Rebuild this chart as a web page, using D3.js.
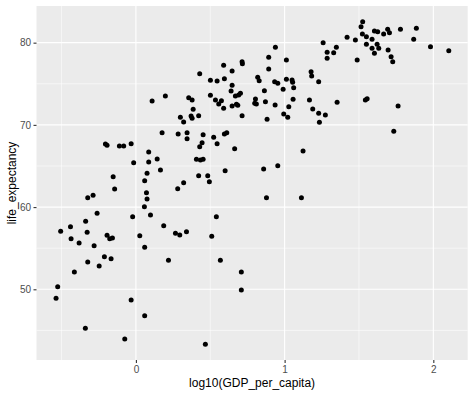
<!DOCTYPE html>
<html><head><meta charset="utf-8">
<script src="https://cdn.jsdelivr.net/npm/d3@7"></script>
<style>body{margin:0;background:#fff}svg{display:block}text{font-family:"Liberation Sans",Arial,Helvetica,sans-serif}</style>
</head><body><div id="chart"></div>
<script>
const xLabel = "log10(GDP_per_capita)";
const yLabel = "life_expectancy";
const xTicks = [0, 1, 2];
const yTicks = [50, 60, 70, 80];
const xMinor = [-0.5, 0.5, 1.5];
const yMinor = [45, 55, 65, 75];
const gdpLog = [
0.109,0.198,0.355,0.378,0.385,0.299,0.321,0.371,0.378,0.422,0.429,0.501,0.546,0.595,0.590,0.647,0.714,0.716,0.501,0.535,
0.557,0.575,0.590,0.647,0.640,0.669,0.691,0.703,0.647,0.676,0.685,0.714,0.804,0.799,0.810,0.819,0.829,0.864,0.871,0.893,
0.893,0.938,0.933,0.954,0.990,0.936,0.882,1.012,1.012,1.050,1.054,1.061,1.057,1.028,0.994,1.021,1.167,
1.525,1.514,1.523,1.420,1.476,1.550,1.588,1.604,1.626,1.666,1.693,1.705,1.779,1.886,1.868,1.981,2.104,1.550,1.588,1.622,
1.633,1.604,1.696,1.716,1.727,1.488,1.259,1.348,1.330,1.286,1.286,1.178,1.182,1.229,1.189,1.229,1.274,1.234,1.353,1.543,
1.555,1.763,1.734,
-0.205,-0.194,-0.111,-0.082,-0.032,-0.015,0.086,0.086,0.143,0.165,0.075,-0.153,-0.143,0.059,0.071,0.075,0.057,0.098,-0.022,-0.324,
-0.288,-0.261,-0.338,-0.328,-0.440,-0.506,-0.436,-0.382,-0.281,-0.194,-0.176,-0.158,0.026,0.059,
-0.212,-0.167,-0.324,-0.247,-0.414,-0.526,-0.537,-0.032,0.059,-0.340,-0.075,
0.176,0.284,0.344,0.344,0.452,0.523,0.546,0.595,0.611,0.664,0.445,0.429,0.407,0.434,0.452,0.422,0.483,0.494,0.600,0.321,
0.281,1.124,0.954,0.859,0.878,1.113,0.541,0.187,0.266,0.295,0.340,0.510,
0.219,0.568,0.709,0.709,0.467
];
const lifeExp = [
72.91,73.52,73.31,73.03,71.90,70.92,70.35,71.08,70.80,71.12,76.23,75.43,75.34,75.62,77.25,76.56,77.69,77.45,73.60,73.03,
72.54,72.94,72.02,74.82,74.12,73.52,73.64,73.84,72.30,72.51,72.38,71.12,73.15,72.63,72.54,75.79,75.38,74.16,72.82,78.22,
76.80,79.44,75.26,75.06,74.33,72.42,70.68,77.90,75.55,75.46,75.18,74.53,73.11,72.21,71.33,70.92,73.03,
82.55,81.95,81.06,80.66,80.33,80.73,80.41,81.42,81.34,81.06,81.63,81.22,81.63,81.75,80.41,79.51,79.03,79.81,79.32,79.81,
79.32,78.71,79.11,78.30,77.69,77.90,80.00,79.44,78.78,78.83,78.10,76.47,75.95,75.26,71.93,71.41,71.20,70.32,72.75,73.03,
73.19,72.30,69.22,
67.68,67.52,67.43,67.43,67.71,65.40,66.70,65.49,65.85,64.51,64.11,63.70,62.20,63.21,61.75,60.99,60.05,59.04,58.83,61.14,
61.44,59.25,58.27,56.93,57.62,57.06,56.16,55.63,55.30,56.57,56.16,56.24,56.52,55.11,
53.97,53.72,53.32,52.84,52.10,50.32,48.90,48.70,46.79,45.26,43.95,
69.05,68.89,69.05,68.32,68.81,68.49,67.71,68.89,69.05,67.10,67.83,67.35,65.81,65.73,65.81,63.82,63.82,63.09,64.43,62.97,
62.24,66.83,65.04,64.64,61.14,61.14,58.83,57.74,56.81,56.61,57.01,56.45,
53.53,53.53,52.10,49.91,43.31
];

const W = 474, H = 395;
const panel = {left: 36.5, right: 467.7, top: 6, bottom: 360};
const svg = d3.select("#chart").append("svg").attr("width", W).attr("height", H);

const x = d3.scaleLinear().domain([-0.6685, 2.2312]).range([panel.left, panel.right]);
const y = d3.scaleLinear().domain([41.40, 84.46]).range([panel.bottom, panel.top]);

svg.append("rect").attr("x", panel.left).attr("y", panel.top)
  .attr("width", panel.right - panel.left).attr("height", panel.bottom - panel.top).attr("fill", "#EBEBEB");

const grid = svg.append("g");
grid.selectAll(".xmin").data(xMinor).join("line")
  .attr("x1", d => x(d)).attr("x2", d => x(d)).attr("y1", panel.top).attr("y2", panel.bottom)
  .attr("stroke", "#fff").attr("stroke-width", 0.55);
grid.selectAll(".ymin").data(yMinor).join("line")
  .attr("y1", d => y(d)).attr("y2", d => y(d)).attr("x1", panel.left).attr("x2", panel.right)
  .attr("stroke", "#fff").attr("stroke-width", 0.55);
grid.selectAll(".xmaj").data(xTicks).join("line")
  .attr("x1", d => x(d)).attr("x2", d => x(d)).attr("y1", panel.top).attr("y2", panel.bottom)
  .attr("stroke", "#fff").attr("stroke-width", 1.1);
grid.selectAll(".ymaj").data(yTicks).join("line")
  .attr("y1", d => y(d)).attr("y2", d => y(d)).attr("x1", panel.left).attr("x2", panel.right)
  .attr("stroke", "#fff").attr("stroke-width", 1.1);

const xAxis = svg.append("g").attr("transform", `translate(0,${panel.bottom})`)
  .call(d3.axisBottom(x).tickValues(xTicks).tickSize(3).tickPadding(3.3).tickFormat(d3.format("d")));
const yAxis = svg.append("g").attr("transform", `translate(${panel.left},0)`)
  .call(d3.axisLeft(y).tickValues(yTicks).tickSize(3).tickPadding(2.4).tickFormat(d3.format("d")));
[xAxis, yAxis].forEach(a => {
  a.select(".domain").remove();
  a.selectAll(".tick line").attr("stroke", "#333333").attr("stroke-width", 1.1);
  a.selectAll(".tick text").attr("fill", "#4D4D4D").style("font-size", "10px")
   .style("font-family", '"Liberation Sans",Arial,Helvetica,sans-serif');
});

svg.append("g").selectAll("circle").data(gdpLog.map((g, i) => [g, lifeExp[i]])).join("circle")
  .attr("cx", d => x(d[0])).attr("cy", d => y(d[1])).attr("r", 2.5).attr("fill", "#000");

svg.append("text").attr("x", (panel.left + panel.right) / 2).attr("y", 387)
  .attr("text-anchor", "middle").style("font-size", "12px").attr("fill", "#000").text(xLabel);
svg.append("text").attr("transform", `translate(15.5,${(panel.top + panel.bottom) / 2}) rotate(-90)`)
  .attr("text-anchor", "middle").style("font-size", "12px").attr("fill", "#000").text(yLabel);
</script></body></html>
